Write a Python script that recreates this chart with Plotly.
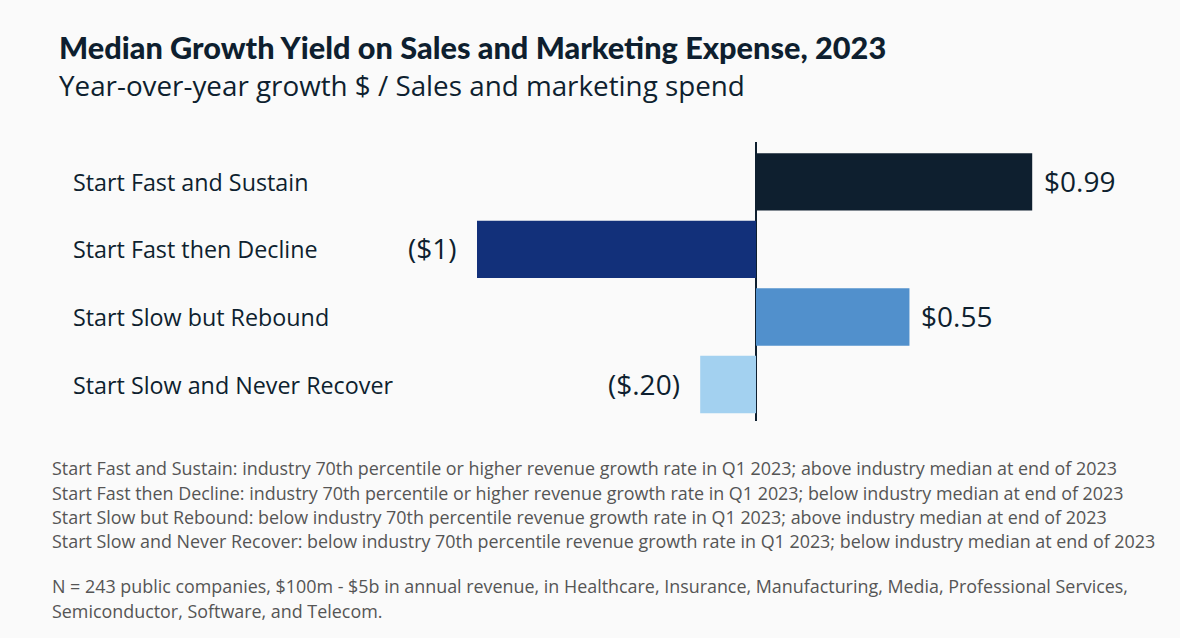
import plotly.graph_objects as go

categories = ["Start Fast and Sustain", "Start Fast then Decline",
              "Start Slow but Rebound", "Start Slow and Never Recover"]
values = [0.99, -1.0, 0.55, -0.20]
value_labels = ["$0.99", "($1)", "$0.55", "($.20)"]
colors = ["#0e1f2f", "#12307a", "#5190cc", "#a3d1f0"]

footnotes = [
    "Start Fast and Sustain: industry 70th percentile or higher revenue growth rate in Q1 2023; above industry median at end of 2023",
    "Start Fast then Decline: industry 70th percentile or higher revenue growth rate in Q1 2023; below industry median at end of 2023",
    "Start Slow but Rebound: below industry 70th percentile revenue growth rate in Q1 2023; above industry median at end of 2023",
    "Start Slow and Never Recover: below industry 70th percentile revenue growth rate in Q1 2023; below industry median at end of 2023",
]
source_lines = [
    "N = 243 public companies, $100m - $5b in annual revenue, in Healthcare, Insurance, Manufacturing, Media, Professional Services,",
    "Semiconductor, Software, and Telecom.",
]

W, H = 1180, 638
TOP, BOT = 142, 421  # plot area pixel bounds
DARK = "#0e1f2f"
FONT = "Open Sans"

def py(p):
    return (BOT - p) / (BOT - TOP)

def px(p):
    return p / W

ypos = list(range(len(categories)))

fig = go.Figure()
fig.add_trace(go.Bar(
    x=values, y=ypos, orientation="h",
    marker=dict(color=colors, line=dict(width=0)),
    width=0.85, hoverinfo="skip", showlegend=False,
))

annotations = []
for i, (v, lab) in enumerate(zip(values, value_labels)):
    annotations.append(dict(
        x=v, y=i, xref="x", yref="y", text=lab, showarrow=False,
        xanchor="left" if v >= 0 else "right",
        xshift=10 if v >= 0 else -18, yshift=1,
        font=dict(family=FONT, size=28, color=DARK, weight=500),
    ))
for i, c in enumerate(categories):
    annotations.append(dict(
        x=px(71), y=i, xref="paper", yref="y", text=c, showarrow=False,
        xanchor="left", yanchor="middle",
        font=dict(family=FONT, size=23.3, color=DARK, weight=500),
    ))

annotations.append(dict(
    x=px(57), y=py(48), xref="paper", yref="paper",
    text="Median Growth Yield on Sales and Marketing Expense, 2023",
    showarrow=False, xanchor="left", yanchor="middle",
    font=dict(family="Lato", size=30.7, color=DARK, weight=900),
))
annotations.append(dict(
    x=px(57), y=py(85), xref="paper", yref="paper",
    text="Year-over-year growth $ / Sales and marketing spend",
    showarrow=False, xanchor="left", yanchor="middle",
    font=dict(family=FONT, size=27.8, color=DARK, weight=500),
))

foot_y = [468, 493, 517, 541]
for t, yy in zip(footnotes, foot_y):
    annotations.append(dict(
        x=px(50), y=py(yy), xref="paper", yref="paper", text=t,
        showarrow=False, xanchor="left", yanchor="middle",
        font=dict(family=FONT, size=17.9, color="#555555"),
    ))
for t, yy in zip(source_lines, [586, 611]):
    annotations.append(dict(
        x=px(50), y=py(yy), xref="paper", yref="paper", text=t,
        showarrow=False, xanchor="left", yanchor="middle",
        font=dict(family=FONT, size=17.9, color="#555555"),
    ))

zero_px = 756
ppu = 279
fig.update_layout(
    width=W, height=H,
    margin=dict(l=0, r=0, t=TOP, b=H - BOT),
    paper_bgcolor="#fafafa", plot_bgcolor="#fafafa",
    xaxis=dict(range=[-zero_px / ppu, (W - zero_px) / ppu], showgrid=False,
               showticklabels=False, zeroline=True, zerolinecolor=DARK,
               zerolinewidth=2, fixedrange=True),
    yaxis=dict(range=[3.54, -0.59], showgrid=False, showticklabels=False,
               zeroline=False, fixedrange=True),
    annotations=annotations,
    bargap=0.15,
)

fig.write_html("out.html", config={"displayModeBar": False},
               post_script="document.body.style.margin='0';document.body.style.background='#fafafa';")
